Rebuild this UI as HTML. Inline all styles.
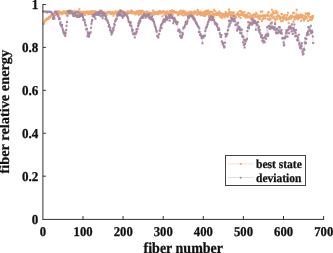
<!DOCTYPE html>
<html><head><meta charset="utf-8"><style>
html,body{margin:0;padding:0;background:#fff;width:333px;height:253px;overflow:hidden}
svg{display:block}
text{font-family:"Liberation Serif",serif;font-weight:bold;fill:#111;stroke:#111;stroke-width:0.25px;text-rendering:geometricPrecision}
</style></head><body>
<svg width="333" height="253" viewBox="0 0 333 253">
<rect width="333" height="253" fill="#fff"/>
<g fill="none" stroke-width="0.5">
<polyline points="43.30,23.93 43.70,23.66 44.10,22.94 44.50,21.59 44.91,21.11 45.31,20.60 45.71,19.19 46.11,19.35 46.51,19.06 46.91,19.65 47.31,18.45 47.71,19.05 48.11,18.13 48.51,17.18 48.91,18.48 49.32,16.93 49.72,17.30 50.12,17.55 50.52,16.22 50.92,15.41 51.32,16.37 51.72,15.39 52.12,14.06 52.52,13.73 52.92,13.99 53.33,14.94 53.73,13.52 54.13,14.21 54.53,15.09 54.93,14.71 55.33,14.88 55.73,14.60 56.13,11.30 56.53,14.52 56.94,13.46 57.34,12.90 57.74,11.76 58.14,11.14 58.54,11.66 58.94,12.87 59.34,11.51 59.74,11.88 60.14,12.09 60.54,13.56 60.95,12.46 61.35,12.63 61.75,14.32 62.15,12.42 62.55,13.48 62.95,11.57 63.35,13.17 63.75,12.92 64.15,12.99 64.55,12.25 64.95,11.60 65.36,12.44 65.76,12.24 66.16,13.97 66.56,13.82 66.96,11.39 67.36,13.50 67.76,12.22 68.16,13.30 68.56,12.22 68.97,11.08 69.37,13.94 69.77,13.29 70.17,11.36 70.57,10.59 70.97,12.15 71.37,11.40 71.77,12.34 72.17,13.47 72.57,14.45 72.98,12.35 73.38,14.34 73.78,14.09 74.18,12.25 74.58,10.83 74.98,13.73 75.38,13.45 75.78,15.46 76.18,14.39 76.58,13.65 76.99,14.69 77.39,11.54 77.79,12.97 78.19,12.43 78.59,14.75 78.99,13.39 79.39,9.22 79.79,14.32 80.19,11.70 80.59,13.63 81.00,12.19 81.40,13.02 81.80,13.47 82.20,12.96 82.60,11.64 83.00,14.35 83.40,13.19 83.80,12.72 84.20,13.55 84.60,12.12 85.00,14.90 85.41,12.99 85.81,13.15 86.21,13.13 86.61,11.68 87.01,11.38 87.41,12.98 87.81,13.13 88.21,14.28 88.61,13.25 89.02,11.47 89.42,13.33 89.82,13.67 90.22,13.88 90.62,13.10 91.02,11.31 91.42,14.05 91.82,11.87 92.22,13.37 92.62,10.90 93.03,13.59 93.43,11.81 93.83,13.95 94.23,14.74 94.63,14.05 95.03,11.36 95.43,11.62 95.83,11.70 96.23,13.46 96.63,13.10 97.04,12.88 97.44,13.05 97.84,13.36 98.24,13.44 98.64,14.63 99.04,12.62 99.44,12.92 99.84,10.55 100.24,11.16 100.64,11.88 101.05,11.31 101.45,12.93 101.85,13.87 102.25,12.17 102.65,12.11 103.05,12.08 103.45,12.82 103.85,12.04 104.25,13.15 104.65,13.00 105.06,13.05 105.46,13.53 105.86,12.69 106.26,12.82 106.66,14.67 107.06,12.59 107.46,13.56 107.86,12.70 108.26,12.11 108.66,12.11 109.06,11.69 109.47,12.65 109.87,11.94 110.27,12.14 110.67,14.03 111.07,12.47 111.47,13.94 111.87,12.93 112.27,13.62 112.67,11.92 113.08,12.79 113.48,15.65 113.88,13.57 114.28,13.77 114.68,12.88 115.08,13.60 115.48,11.27 115.88,11.63 116.28,13.10 116.68,13.55 117.09,12.13 117.49,12.39 117.89,12.18 118.29,12.38 118.69,11.21 119.09,10.95 119.49,12.50 119.89,10.59 120.29,11.46 120.69,11.83 121.09,11.38 121.50,12.87 121.90,12.08 122.30,12.51 122.70,11.44 123.10,11.75 123.50,13.19 123.90,13.02 124.30,12.07 124.70,13.03 125.11,12.83 125.51,12.80 125.91,14.45 126.31,12.16 126.71,13.10 127.11,13.11 127.51,12.35 127.91,11.29 128.31,13.42 128.71,12.93 129.12,12.69 129.52,12.66 129.92,12.66 130.32,11.61 130.72,12.97 131.12,10.57 131.52,12.61 131.92,10.92 132.32,12.24 132.72,13.47 133.12,12.35 133.53,12.10 133.93,13.24 134.33,12.34 134.73,12.19 135.13,12.20 135.53,14.40 135.93,13.42 136.33,13.22 136.73,11.30 137.14,13.38 137.54,11.18 137.94,13.22 138.34,11.39 138.74,14.92 139.14,10.74 139.54,14.08 139.94,13.60 140.34,10.64 140.74,12.41 141.15,14.35 141.55,14.00 141.95,10.79 142.35,12.10 142.75,11.35 143.15,11.52 143.55,11.97 143.95,14.83 144.35,12.86 144.75,12.45 145.16,12.33 145.56,13.48 145.96,13.52 146.36,11.67 146.76,14.41 147.16,11.48 147.56,12.41 147.96,13.25 148.36,14.71 148.76,12.34 149.17,13.07 149.57,14.24 149.97,13.47 150.37,14.05 150.77,13.96 151.17,13.06 151.57,13.49 151.97,13.83 152.37,12.73 152.77,14.64 153.18,10.44 153.58,11.69 153.98,14.48 154.38,13.29 154.78,12.02 155.18,13.24 155.58,14.08 155.98,12.12 156.38,13.72 156.78,12.65 157.19,12.66 157.59,12.72 157.99,14.15 158.39,11.45 158.79,12.37 159.19,13.62 159.59,11.33 159.99,10.89 160.39,13.52 160.79,12.83 161.20,12.65 161.60,13.01 162.00,11.63 162.40,16.46 162.80,11.62 163.20,12.30 163.60,11.07 164.00,12.33 164.40,14.77 164.80,12.88 165.21,13.61 165.61,12.25 166.01,15.17 166.41,13.08 166.81,11.28 167.21,13.86 167.61,12.40 168.01,13.66 168.41,13.06 168.81,13.22 169.22,13.06 169.62,11.72 170.02,10.94 170.42,14.17 170.82,12.72 171.22,13.27 171.62,12.29 172.02,10.25 172.42,11.23 172.82,14.76 173.23,11.87 173.63,12.41 174.03,10.97 174.43,12.22 174.83,12.43 175.23,12.63 175.63,12.83 176.03,12.08 176.43,12.16 176.83,12.92 177.24,13.38 177.64,12.75 178.04,15.31 178.44,13.23 178.84,13.17 179.24,12.05 179.64,14.36 180.04,11.55 180.44,10.73 180.84,11.61 181.25,13.82 181.65,11.38 182.05,14.77 182.45,12.94 182.85,10.86 183.25,12.66 183.65,15.48 184.05,11.77 184.45,11.14 184.85,13.71 185.26,14.84 185.66,14.43 186.06,12.53 186.46,13.26 186.86,13.46 187.26,14.68 187.66,16.08 188.06,12.85 188.46,14.88 188.86,12.52 189.27,13.87 189.67,11.67 190.07,11.91 190.47,13.63 190.87,11.72 191.27,14.32 191.67,12.23 192.07,13.15 192.47,12.92 192.87,12.55 193.28,13.24 193.68,14.64 194.08,17.65 194.48,11.29 194.88,13.50 195.28,12.80 195.68,11.70 196.08,13.49 196.48,11.75 196.88,12.95 197.29,14.94 197.69,10.03 198.09,13.45 198.49,13.76 198.89,11.63 199.29,13.88 199.69,13.62 200.09,12.62 200.49,15.30 200.89,11.73 201.30,15.01 201.70,13.95 202.10,12.97 202.50,14.61 202.90,14.13 203.30,15.71 203.70,11.89 204.10,13.69 204.50,13.06 204.90,16.00 205.31,11.75 205.71,15.17 206.11,10.76 206.51,14.07 206.91,13.32 207.31,14.14 207.71,12.44 208.11,10.47 208.51,11.12 208.91,15.67 209.32,13.93 209.72,12.22 210.12,15.05 210.52,12.42 210.92,12.44 211.32,11.69 211.72,15.53 212.12,16.79 212.52,12.12 212.92,14.14 213.33,15.25 213.73,17.08 214.13,9.87 214.53,13.94 214.93,14.75 215.33,11.35 215.73,14.40 216.13,14.07 216.53,14.94 216.93,12.81 217.34,14.46 217.74,12.78 218.14,14.80 218.54,14.07 218.94,13.18 219.34,11.43 219.74,16.63 220.14,15.82 220.54,15.70 220.94,13.32 221.35,14.13 221.75,17.90 222.15,16.56 222.55,14.04 222.95,15.88 223.35,15.94 223.75,15.18 224.15,13.69 224.55,17.46 224.95,16.11 225.36,14.54 225.76,11.88 226.16,13.58 226.56,14.64 226.96,16.26 227.36,13.99 227.76,16.74 228.16,14.96 228.56,13.31 228.96,9.47 229.37,12.51 229.77,11.91 230.17,14.46 230.57,15.40 230.97,17.44 231.37,14.76 231.77,12.55 232.17,19.38 232.57,15.42 232.97,14.31 233.38,14.32 233.78,12.18 234.18,16.12 234.58,15.61 234.98,18.06 235.38,17.10 235.78,16.65 236.18,17.46 236.58,14.35 236.98,14.03 237.39,14.84 237.79,12.40 238.19,14.67 238.59,14.30 238.99,16.38 239.39,14.97 239.79,11.02 240.19,15.09 240.59,18.03 240.99,11.16 241.40,13.44 241.80,15.11 242.20,12.24 242.60,13.91 243.00,15.23 243.40,12.26 243.80,15.77 244.20,16.03 244.60,12.37 245.00,15.22 245.41,17.56 245.81,14.80 246.21,16.17 246.61,16.65 247.01,14.70 247.41,17.44 247.81,16.11 248.21,13.01 248.61,16.46 249.01,17.25 249.42,17.14 249.82,13.83 250.22,16.38 250.62,18.51 251.02,15.89 251.42,18.12 251.82,18.42 252.22,15.31 252.62,16.97 253.02,14.74 253.43,17.97 253.83,15.24 254.23,14.16 254.63,15.43 255.03,15.33 255.43,16.43 255.83,16.65 256.23,12.75 256.63,14.00 257.03,16.44 257.44,16.75 257.84,15.81 258.24,21.95 258.64,18.33 259.04,15.47 259.44,17.42 259.84,18.90 260.24,16.59 260.64,11.54 261.04,15.98 261.45,15.88 261.85,20.89 262.25,11.38 262.65,19.52 263.05,15.45 263.45,18.08 263.85,15.16 264.25,16.30 264.65,18.61 265.05,16.11 265.46,18.45 265.86,15.75 266.26,14.97 266.66,15.45 267.06,14.78 267.46,15.71 267.86,19.29 268.26,13.22 268.66,12.06 269.06,16.02 269.47,20.12 269.87,18.61 270.27,19.28 270.67,19.13 271.07,14.39 271.47,16.44 271.87,9.78 272.27,14.72 272.67,17.66 273.07,12.48 273.48,11.28 273.88,13.13 274.28,16.79 274.68,19.08 275.08,22.51 275.48,19.75 275.88,12.69 276.28,10.78 276.68,16.73 277.08,18.93 277.49,12.52 277.89,15.17 278.29,15.36 278.69,16.54 279.09,16.05 279.49,17.74 279.89,19.05 280.29,16.70 280.69,18.34 281.09,21.33 281.50,14.10 281.90,14.05 282.30,17.79 282.70,21.03 283.10,16.99 283.50,19.22 283.90,15.87 284.30,18.82 284.70,15.12 285.10,18.25 285.51,17.59 285.91,17.60 286.31,19.97 286.71,19.24 287.11,15.25 287.51,18.82 287.91,12.63 288.31,19.09 288.71,23.33 289.11,18.01 289.52,17.97 289.92,16.91 290.32,18.77 290.72,15.70 291.12,18.40 291.52,16.15 291.92,15.80 292.32,17.12 292.72,16.69 293.12,12.68 293.53,21.84 293.93,17.20 294.33,12.80 294.73,19.46 295.13,16.81 295.53,17.38 295.93,18.59 296.33,14.75 296.73,9.84 297.13,16.67 297.54,17.49 297.94,19.32 298.34,15.11 298.74,16.29 299.14,17.89 299.54,16.18 299.94,16.34 300.34,17.56 300.74,14.56 301.14,20.76 301.55,14.75 301.95,17.05 302.35,16.18 302.75,15.27 303.15,18.26 303.55,19.41 303.95,20.48 304.35,18.39 304.75,15.92 305.15,19.07 305.56,13.54 305.96,17.12 306.36,18.26 306.76,18.37 307.16,14.25 307.56,13.42 307.96,21.00 308.36,15.79 308.76,13.06 309.16,14.04 309.56,17.05 309.97,19.85 310.37,17.01 310.77,19.90 311.17,17.56 311.57,18.15 311.97,19.39 312.37,16.12 312.77,17.74 313.17,16.09" stroke="#f0a86e" opacity="0.5"/>
<polyline points="43.30,11.36 43.70,11.64 44.10,11.82 44.50,11.51 44.91,11.59 45.31,11.43 45.71,11.87 46.11,11.39 46.51,11.58 46.91,12.40 47.31,12.34 47.71,11.48 48.11,11.64 48.51,11.55 48.91,11.57 49.32,11.67 49.72,12.10 50.12,11.69 50.52,11.65 50.92,11.93 51.32,12.02 51.72,13.80 52.12,13.54 52.52,14.35 52.92,17.74 53.33,18.99 53.73,16.21 54.13,16.31 54.53,18.52 54.93,11.71 55.33,12.55 55.73,12.59 56.13,12.75 56.53,12.34 56.94,14.29 57.34,13.49 57.74,14.33 58.14,16.38 58.54,15.60 58.94,19.23 59.34,17.80 59.74,19.07 60.14,23.77 60.54,22.18 60.95,25.11 61.35,26.21 61.75,26.42 62.15,24.72 62.55,28.55 62.95,30.22 63.35,32.37 63.75,31.65 64.15,33.74 64.55,34.57 64.95,32.49 65.36,35.96 65.76,33.34 66.16,30.00 66.56,25.82 66.96,21.93 67.36,15.64 67.76,11.49 68.16,12.24 68.56,10.81 68.97,11.64 69.37,12.77 69.77,11.07 70.17,11.81 70.57,11.16 70.97,11.73 71.37,13.05 71.77,11.54 72.17,11.87 72.57,13.20 72.98,14.36 73.38,15.99 73.78,16.15 74.18,15.84 74.58,13.81 74.98,12.80 75.38,14.64 75.78,15.32 76.18,15.69 76.58,11.68 76.99,16.94 77.39,15.38 77.79,11.86 78.19,16.51 78.59,12.62 78.99,16.15 79.39,17.12 79.79,15.58 80.19,14.13 80.59,15.60 81.00,15.98 81.40,15.36 81.80,13.90 82.20,13.93 82.60,16.04 83.00,17.29 83.40,19.96 83.80,19.32 84.20,20.22 84.60,20.45 85.00,22.67 85.41,25.08 85.81,25.34 86.21,29.48 86.61,28.64 87.01,29.15 87.41,36.15 87.81,32.25 88.21,34.18 88.61,36.32 89.02,36.76 89.42,34.57 89.82,32.73 90.22,32.74 90.62,32.33 91.02,27.72 91.42,23.77 91.82,21.55 92.22,20.11 92.62,15.96 93.03,15.20 93.43,14.78 93.83,15.30 94.23,17.07 94.63,14.82 95.03,13.39 95.43,18.83 95.83,14.24 96.23,14.65 96.63,12.41 97.04,12.27 97.44,12.63 97.84,15.03 98.24,14.36 98.64,14.93 99.04,11.86 99.44,12.24 99.84,13.73 100.24,12.66 100.64,16.36 101.05,13.42 101.45,10.68 101.85,13.17 102.25,15.82 102.65,18.17 103.05,12.55 103.45,13.86 103.85,15.69 104.25,14.14 104.65,13.62 105.06,15.21 105.46,18.88 105.86,16.14 106.26,18.12 106.66,20.29 107.06,20.30 107.46,20.72 107.86,21.75 108.26,22.98 108.66,26.49 109.06,24.66 109.47,26.70 109.87,30.25 110.27,28.10 110.67,30.16 111.07,31.97 111.47,34.44 111.87,32.65 112.27,32.68 112.67,31.26 113.08,28.39 113.48,29.96 113.88,27.33 114.28,24.12 114.68,24.93 115.08,21.41 115.48,20.36 115.88,20.38 116.28,18.57 116.68,18.97 117.09,15.32 117.49,16.14 117.89,14.23 118.29,15.06 118.69,12.88 119.09,12.35 119.49,13.70 119.89,13.04 120.29,15.57 120.69,10.44 121.09,14.79 121.50,11.07 121.90,15.82 122.30,16.10 122.70,17.73 123.10,12.25 123.50,13.40 123.90,16.06 124.30,13.26 124.70,15.16 125.11,13.90 125.51,14.58 125.91,14.43 126.31,14.81 126.71,14.61 127.11,16.49 127.51,16.69 127.91,18.08 128.31,19.64 128.71,21.79 129.12,22.20 129.52,22.09 129.92,25.27 130.32,22.98 130.72,22.30 131.12,25.48 131.52,26.51 131.92,29.18 132.32,31.39 132.72,29.92 133.12,34.00 133.53,34.13 133.93,33.51 134.33,34.14 134.73,37.57 135.13,34.15 135.53,32.77 135.93,33.76 136.33,29.85 136.73,32.01 137.14,28.96 137.54,29.29 137.94,26.23 138.34,23.20 138.74,24.81 139.14,21.24 139.54,22.81 139.94,19.50 140.34,21.37 140.74,18.22 141.15,18.36 141.55,17.34 141.95,16.17 142.35,18.05 142.75,16.84 143.15,17.47 143.55,15.42 143.95,13.93 144.35,15.77 144.75,14.91 145.16,15.15 145.56,17.75 145.96,16.57 146.36,16.16 146.76,15.81 147.16,15.60 147.56,14.37 147.96,14.47 148.36,15.83 148.76,17.67 149.17,15.52 149.57,14.28 149.97,18.85 150.37,18.49 150.77,17.34 151.17,19.36 151.57,18.27 151.97,16.28 152.37,19.71 152.77,20.62 153.18,19.15 153.58,21.14 153.98,21.95 154.38,23.85 154.78,25.44 155.18,26.39 155.58,27.50 155.98,29.62 156.38,30.88 156.78,31.81 157.19,35.93 157.59,36.12 157.99,36.68 158.39,37.51 158.79,34.25 159.19,34.36 159.59,30.43 159.99,30.66 160.39,28.20 160.79,26.27 161.20,24.85 161.60,28.28 162.00,23.68 162.40,23.82 162.80,22.43 163.20,20.46 163.60,20.70 164.00,19.23 164.40,20.02 164.80,21.81 165.21,20.56 165.61,19.10 166.01,17.11 166.41,16.31 166.81,18.89 167.21,19.83 167.61,18.48 168.01,17.72 168.41,17.22 168.81,15.08 169.22,16.27 169.62,20.64 170.02,16.86 170.42,17.92 170.82,15.73 171.22,14.80 171.62,16.72 172.02,16.95 172.42,18.09 172.82,17.48 173.23,23.24 173.63,19.11 174.03,21.31 174.43,17.68 174.83,19.31 175.23,20.31 175.63,20.56 176.03,22.45 176.43,23.43 176.83,24.22 177.24,22.54 177.64,21.95 178.04,30.43 178.44,30.82 178.84,30.46 179.24,29.49 179.64,32.18 180.04,36.09 180.44,31.46 180.84,36.73 181.25,37.90 181.65,35.60 182.05,36.92 182.45,32.90 182.85,34.51 183.25,28.39 183.65,27.29 184.05,27.42 184.45,27.34 184.85,25.92 185.26,24.38 185.66,22.15 186.06,21.66 186.46,24.07 186.86,23.22 187.26,22.27 187.66,20.36 188.06,17.54 188.46,16.25 188.86,17.92 189.27,16.84 189.67,16.26 190.07,16.29 190.47,15.14 190.87,15.31 191.27,15.63 191.67,16.17 192.07,15.84 192.47,17.45 192.87,16.99 193.28,18.69 193.68,18.01 194.08,19.82 194.48,19.87 194.88,19.24 195.28,21.28 195.68,21.77 196.08,23.18 196.48,22.66 196.88,23.99 197.29,24.95 197.69,25.92 198.09,26.81 198.49,26.79 198.89,31.94 199.29,28.16 199.69,32.02 200.09,34.98 200.49,34.02 200.89,35.37 201.30,36.49 201.70,38.13 202.10,37.55 202.50,43.24 202.90,36.07 203.30,37.47 203.70,36.12 204.10,35.71 204.50,36.25 204.90,35.56 205.31,31.11 205.71,28.48 206.11,28.47 206.51,26.68 206.91,26.81 207.31,25.12 207.71,23.99 208.11,21.98 208.51,21.88 208.91,19.92 209.32,17.60 209.72,18.85 210.12,17.96 210.52,18.24 210.92,16.33 211.32,20.30 211.72,16.95 212.12,19.92 212.52,17.10 212.92,18.36 213.33,19.73 213.73,19.98 214.13,19.79 214.53,21.88 214.93,23.19 215.33,24.28 215.73,22.74 216.13,24.58 216.53,24.08 216.93,25.95 217.34,24.43 217.74,27.81 218.14,29.88 218.54,28.94 218.94,28.37 219.34,29.70 219.74,33.36 220.14,34.38 220.54,36.89 220.94,37.04 221.35,35.00 221.75,41.54 222.15,41.48 222.55,43.58 222.95,44.24 223.35,43.12 223.75,46.06 224.15,47.38 224.55,46.68 224.95,42.72 225.36,33.79 225.76,36.56 226.16,35.54 226.56,35.86 226.96,33.70 227.36,33.85 227.76,30.45 228.16,29.87 228.56,26.81 228.96,20.67 229.37,24.53 229.77,25.14 230.17,20.45 230.57,22.73 230.97,20.80 231.37,18.08 231.77,18.02 232.17,18.92 232.57,19.81 232.97,19.34 233.38,21.19 233.78,16.13 234.18,21.09 234.58,19.08 234.98,21.30 235.38,25.00 235.78,24.47 236.18,24.44 236.58,24.90 236.98,30.59 237.39,22.67 237.79,28.96 238.19,22.78 238.59,26.67 238.99,28.69 239.39,26.84 239.79,30.35 240.19,33.01 240.59,28.73 240.99,33.51 241.40,32.94 241.80,29.87 242.20,36.46 242.60,35.75 243.00,42.44 243.40,36.93 243.80,44.91 244.20,39.81 244.60,47.52 245.00,43.94 245.41,41.63 245.81,40.90 246.21,39.87 246.61,39.57 247.01,38.81 247.41,30.98 247.81,27.80 248.21,21.99 248.61,26.43 249.01,28.26 249.42,25.43 249.82,24.31 250.22,23.34 250.62,22.58 251.02,22.76 251.42,23.78 251.82,19.17 252.22,24.80 252.62,19.93 253.02,23.15 253.43,21.84 253.83,23.22 254.23,20.94 254.63,20.50 255.03,23.35 255.43,21.42 255.83,29.80 256.23,22.88 256.63,23.58 257.03,25.18 257.44,24.69 257.84,21.91 258.24,28.31 258.64,30.54 259.04,26.67 259.44,32.03 259.84,29.76 260.24,33.16 260.64,34.75 261.04,36.98 261.45,37.14 261.85,35.28 262.25,40.86 262.65,38.00 263.05,40.42 263.45,42.58 263.85,41.32 264.25,37.66 264.65,42.35 265.05,37.26 265.46,36.27 265.86,35.02 266.26,38.77 266.66,34.78 267.06,27.25 267.46,33.70 267.86,36.07 268.26,34.54 268.66,25.93 269.06,25.73 269.47,27.60 269.87,29.05 270.27,26.73 270.67,23.56 271.07,27.95 271.47,28.37 271.87,22.59 272.27,26.47 272.67,26.95 273.07,27.25 273.48,27.92 273.88,29.42 274.28,28.18 274.68,27.22 275.08,23.91 275.48,29.75 275.88,32.22 276.28,33.37 276.68,29.32 277.08,28.47 277.49,33.37 277.89,32.92 278.29,30.27 278.69,32.18 279.09,27.02 279.49,32.12 279.89,27.43 280.29,31.39 280.69,33.44 281.09,31.86 281.50,30.00 281.90,33.53 282.30,38.38 282.70,37.93 283.10,38.45 283.50,42.50 283.90,45.50 284.30,44.75 284.70,37.60 285.10,38.29 285.51,36.55 285.91,33.54 286.31,30.47 286.71,32.50 287.11,30.24 287.51,36.66 287.91,29.67 288.31,29.73 288.71,27.45 289.11,33.31 289.52,26.43 289.92,28.34 290.32,26.25 290.72,28.40 291.12,28.72 291.52,31.43 291.92,24.22 292.32,27.96 292.72,33.99 293.12,27.94 293.53,30.47 293.93,29.41 294.33,24.60 294.73,31.70 295.13,36.17 295.53,33.06 295.93,30.00 296.33,35.83 296.73,36.23 297.13,40.04 297.54,40.54 297.94,37.80 298.34,40.44 298.74,34.65 299.14,44.60 299.54,42.72 299.94,47.27 300.34,47.98 300.74,45.27 301.14,48.58 301.55,46.01 301.95,43.22 302.35,51.77 302.75,54.50 303.15,50.19 303.55,53.71 303.95,48.85 304.35,49.99 304.75,42.44 305.15,38.16 305.56,43.50 305.96,43.08 306.36,38.99 306.76,35.21 307.16,33.19 307.56,32.99 307.96,31.41 308.36,27.03 308.76,34.51 309.16,27.80 309.56,30.26 309.97,30.28 310.37,31.36 310.77,25.82 311.17,33.29 311.57,31.36 311.97,30.74 312.37,32.27 312.77,36.50 313.17,43.00" stroke="#a6869f" opacity="0.5"/>
</g>
<path d="M42.30 22.93h2.0v2.0h-2.0zM42.70 22.66h2.0v2.0h-2.0zM43.10 21.94h2.0v2.0h-2.0zM43.50 20.59h2.0v2.0h-2.0zM43.91 20.11h2.0v2.0h-2.0zM44.31 19.60h2.0v2.0h-2.0zM44.71 18.19h2.0v2.0h-2.0zM45.11 18.35h2.0v2.0h-2.0zM45.51 18.06h2.0v2.0h-2.0zM45.91 18.65h2.0v2.0h-2.0zM46.31 17.45h2.0v2.0h-2.0zM46.71 18.05h2.0v2.0h-2.0zM47.11 17.13h2.0v2.0h-2.0zM47.51 16.18h2.0v2.0h-2.0zM47.91 17.48h2.0v2.0h-2.0zM48.32 15.93h2.0v2.0h-2.0zM48.72 16.30h2.0v2.0h-2.0zM49.12 16.55h2.0v2.0h-2.0zM49.52 15.22h2.0v2.0h-2.0zM49.92 14.41h2.0v2.0h-2.0zM50.32 15.37h2.0v2.0h-2.0zM50.72 14.39h2.0v2.0h-2.0zM51.12 13.06h2.0v2.0h-2.0zM51.52 12.73h2.0v2.0h-2.0zM51.92 12.99h2.0v2.0h-2.0zM52.33 13.94h2.0v2.0h-2.0zM52.73 12.52h2.0v2.0h-2.0zM53.13 13.21h2.0v2.0h-2.0zM53.53 14.09h2.0v2.0h-2.0zM53.93 13.71h2.0v2.0h-2.0zM54.33 13.88h2.0v2.0h-2.0zM54.73 13.60h2.0v2.0h-2.0zM55.13 10.30h2.0v2.0h-2.0zM55.53 13.52h2.0v2.0h-2.0zM55.94 12.46h2.0v2.0h-2.0zM56.34 11.90h2.0v2.0h-2.0zM56.74 10.76h2.0v2.0h-2.0zM57.14 10.14h2.0v2.0h-2.0zM57.54 10.66h2.0v2.0h-2.0zM57.94 11.87h2.0v2.0h-2.0zM58.34 10.51h2.0v2.0h-2.0zM58.74 10.88h2.0v2.0h-2.0zM59.14 11.09h2.0v2.0h-2.0zM59.54 12.56h2.0v2.0h-2.0zM59.95 11.46h2.0v2.0h-2.0zM60.35 11.63h2.0v2.0h-2.0zM60.75 13.32h2.0v2.0h-2.0zM61.15 11.42h2.0v2.0h-2.0zM61.55 12.48h2.0v2.0h-2.0zM61.95 10.57h2.0v2.0h-2.0zM62.35 12.17h2.0v2.0h-2.0zM62.75 11.92h2.0v2.0h-2.0zM63.15 11.99h2.0v2.0h-2.0zM63.55 11.25h2.0v2.0h-2.0zM63.95 10.60h2.0v2.0h-2.0zM64.36 11.44h2.0v2.0h-2.0zM64.76 11.24h2.0v2.0h-2.0zM65.16 12.97h2.0v2.0h-2.0zM65.56 12.82h2.0v2.0h-2.0zM65.96 10.39h2.0v2.0h-2.0zM66.36 12.50h2.0v2.0h-2.0zM66.76 11.22h2.0v2.0h-2.0zM67.16 12.30h2.0v2.0h-2.0zM67.56 11.22h2.0v2.0h-2.0zM67.97 10.08h2.0v2.0h-2.0zM68.37 12.94h2.0v2.0h-2.0zM68.77 12.29h2.0v2.0h-2.0zM69.17 10.36h2.0v2.0h-2.0zM69.57 9.59h2.0v2.0h-2.0zM69.97 11.15h2.0v2.0h-2.0zM70.37 10.40h2.0v2.0h-2.0zM70.77 11.34h2.0v2.0h-2.0zM71.17 12.47h2.0v2.0h-2.0zM71.57 13.45h2.0v2.0h-2.0zM71.98 11.35h2.0v2.0h-2.0zM72.38 13.34h2.0v2.0h-2.0zM72.78 13.09h2.0v2.0h-2.0zM73.18 11.25h2.0v2.0h-2.0zM73.58 9.83h2.0v2.0h-2.0zM73.98 12.73h2.0v2.0h-2.0zM74.38 12.45h2.0v2.0h-2.0zM74.78 14.46h2.0v2.0h-2.0zM75.18 13.39h2.0v2.0h-2.0zM75.58 12.65h2.0v2.0h-2.0zM75.99 13.69h2.0v2.0h-2.0zM76.39 10.54h2.0v2.0h-2.0zM76.79 11.97h2.0v2.0h-2.0zM77.19 11.43h2.0v2.0h-2.0zM77.59 13.75h2.0v2.0h-2.0zM77.99 12.39h2.0v2.0h-2.0zM78.39 8.22h2.0v2.0h-2.0zM78.79 13.32h2.0v2.0h-2.0zM79.19 10.70h2.0v2.0h-2.0zM79.59 12.63h2.0v2.0h-2.0zM80.00 11.19h2.0v2.0h-2.0zM80.40 12.02h2.0v2.0h-2.0zM80.80 12.47h2.0v2.0h-2.0zM81.20 11.96h2.0v2.0h-2.0zM81.60 10.64h2.0v2.0h-2.0zM82.00 13.35h2.0v2.0h-2.0zM82.40 12.19h2.0v2.0h-2.0zM82.80 11.72h2.0v2.0h-2.0zM83.20 12.55h2.0v2.0h-2.0zM83.60 11.12h2.0v2.0h-2.0zM84.00 13.90h2.0v2.0h-2.0zM84.41 11.99h2.0v2.0h-2.0zM84.81 12.15h2.0v2.0h-2.0zM85.21 12.13h2.0v2.0h-2.0zM85.61 10.68h2.0v2.0h-2.0zM86.01 10.38h2.0v2.0h-2.0zM86.41 11.98h2.0v2.0h-2.0zM86.81 12.13h2.0v2.0h-2.0zM87.21 13.28h2.0v2.0h-2.0zM87.61 12.25h2.0v2.0h-2.0zM88.02 10.47h2.0v2.0h-2.0zM88.42 12.33h2.0v2.0h-2.0zM88.82 12.67h2.0v2.0h-2.0zM89.22 12.88h2.0v2.0h-2.0zM89.62 12.10h2.0v2.0h-2.0zM90.02 10.31h2.0v2.0h-2.0zM90.42 13.05h2.0v2.0h-2.0zM90.82 10.87h2.0v2.0h-2.0zM91.22 12.37h2.0v2.0h-2.0zM91.62 9.90h2.0v2.0h-2.0zM92.03 12.59h2.0v2.0h-2.0zM92.43 10.81h2.0v2.0h-2.0zM92.83 12.95h2.0v2.0h-2.0zM93.23 13.74h2.0v2.0h-2.0zM93.63 13.05h2.0v2.0h-2.0zM94.03 10.36h2.0v2.0h-2.0zM94.43 10.62h2.0v2.0h-2.0zM94.83 10.70h2.0v2.0h-2.0zM95.23 12.46h2.0v2.0h-2.0zM95.63 12.10h2.0v2.0h-2.0zM96.04 11.88h2.0v2.0h-2.0zM96.44 12.05h2.0v2.0h-2.0zM96.84 12.36h2.0v2.0h-2.0zM97.24 12.44h2.0v2.0h-2.0zM97.64 13.63h2.0v2.0h-2.0zM98.04 11.62h2.0v2.0h-2.0zM98.44 11.92h2.0v2.0h-2.0zM98.84 9.55h2.0v2.0h-2.0zM99.24 10.16h2.0v2.0h-2.0zM99.64 10.88h2.0v2.0h-2.0zM100.05 10.31h2.0v2.0h-2.0zM100.45 11.93h2.0v2.0h-2.0zM100.85 12.87h2.0v2.0h-2.0zM101.25 11.17h2.0v2.0h-2.0zM101.65 11.11h2.0v2.0h-2.0zM102.05 11.08h2.0v2.0h-2.0zM102.45 11.82h2.0v2.0h-2.0zM102.85 11.04h2.0v2.0h-2.0zM103.25 12.15h2.0v2.0h-2.0zM103.65 12.00h2.0v2.0h-2.0zM104.06 12.05h2.0v2.0h-2.0zM104.46 12.53h2.0v2.0h-2.0zM104.86 11.69h2.0v2.0h-2.0zM105.26 11.82h2.0v2.0h-2.0zM105.66 13.67h2.0v2.0h-2.0zM106.06 11.59h2.0v2.0h-2.0zM106.46 12.56h2.0v2.0h-2.0zM106.86 11.70h2.0v2.0h-2.0zM107.26 11.11h2.0v2.0h-2.0zM107.66 11.11h2.0v2.0h-2.0zM108.06 10.69h2.0v2.0h-2.0zM108.47 11.65h2.0v2.0h-2.0zM108.87 10.94h2.0v2.0h-2.0zM109.27 11.14h2.0v2.0h-2.0zM109.67 13.03h2.0v2.0h-2.0zM110.07 11.47h2.0v2.0h-2.0zM110.47 12.94h2.0v2.0h-2.0zM110.87 11.93h2.0v2.0h-2.0zM111.27 12.62h2.0v2.0h-2.0zM111.67 10.92h2.0v2.0h-2.0zM112.08 11.79h2.0v2.0h-2.0zM112.48 14.65h2.0v2.0h-2.0zM112.88 12.57h2.0v2.0h-2.0zM113.28 12.77h2.0v2.0h-2.0zM113.68 11.88h2.0v2.0h-2.0zM114.08 12.60h2.0v2.0h-2.0zM114.48 10.27h2.0v2.0h-2.0zM114.88 10.63h2.0v2.0h-2.0zM115.28 12.10h2.0v2.0h-2.0zM115.68 12.55h2.0v2.0h-2.0zM116.09 11.13h2.0v2.0h-2.0zM116.49 11.39h2.0v2.0h-2.0zM116.89 11.18h2.0v2.0h-2.0zM117.29 11.38h2.0v2.0h-2.0zM117.69 10.21h2.0v2.0h-2.0zM118.09 9.95h2.0v2.0h-2.0zM118.49 11.50h2.0v2.0h-2.0zM118.89 9.59h2.0v2.0h-2.0zM119.29 10.46h2.0v2.0h-2.0zM119.69 10.83h2.0v2.0h-2.0zM120.09 10.38h2.0v2.0h-2.0zM120.50 11.87h2.0v2.0h-2.0zM120.90 11.08h2.0v2.0h-2.0zM121.30 11.51h2.0v2.0h-2.0zM121.70 10.44h2.0v2.0h-2.0zM122.10 10.75h2.0v2.0h-2.0zM122.50 12.19h2.0v2.0h-2.0zM122.90 12.02h2.0v2.0h-2.0zM123.30 11.07h2.0v2.0h-2.0zM123.70 12.03h2.0v2.0h-2.0zM124.11 11.83h2.0v2.0h-2.0zM124.51 11.80h2.0v2.0h-2.0zM124.91 13.45h2.0v2.0h-2.0zM125.31 11.16h2.0v2.0h-2.0zM125.71 12.10h2.0v2.0h-2.0zM126.11 12.11h2.0v2.0h-2.0zM126.51 11.35h2.0v2.0h-2.0zM126.91 10.29h2.0v2.0h-2.0zM127.31 12.42h2.0v2.0h-2.0zM127.71 11.93h2.0v2.0h-2.0zM128.12 11.69h2.0v2.0h-2.0zM128.52 11.66h2.0v2.0h-2.0zM128.92 11.66h2.0v2.0h-2.0zM129.32 10.61h2.0v2.0h-2.0zM129.72 11.97h2.0v2.0h-2.0zM130.12 9.57h2.0v2.0h-2.0zM130.52 11.61h2.0v2.0h-2.0zM130.92 9.92h2.0v2.0h-2.0zM131.32 11.24h2.0v2.0h-2.0zM131.72 12.47h2.0v2.0h-2.0zM132.12 11.35h2.0v2.0h-2.0zM132.53 11.10h2.0v2.0h-2.0zM132.93 12.24h2.0v2.0h-2.0zM133.33 11.34h2.0v2.0h-2.0zM133.73 11.19h2.0v2.0h-2.0zM134.13 11.20h2.0v2.0h-2.0zM134.53 13.40h2.0v2.0h-2.0zM134.93 12.42h2.0v2.0h-2.0zM135.33 12.22h2.0v2.0h-2.0zM135.73 10.30h2.0v2.0h-2.0zM136.14 12.38h2.0v2.0h-2.0zM136.54 10.18h2.0v2.0h-2.0zM136.94 12.22h2.0v2.0h-2.0zM137.34 10.39h2.0v2.0h-2.0zM137.74 13.92h2.0v2.0h-2.0zM138.14 9.74h2.0v2.0h-2.0zM138.54 13.08h2.0v2.0h-2.0zM138.94 12.60h2.0v2.0h-2.0zM139.34 9.64h2.0v2.0h-2.0zM139.74 11.41h2.0v2.0h-2.0zM140.15 13.35h2.0v2.0h-2.0zM140.55 13.00h2.0v2.0h-2.0zM140.95 9.79h2.0v2.0h-2.0zM141.35 11.10h2.0v2.0h-2.0zM141.75 10.35h2.0v2.0h-2.0zM142.15 10.52h2.0v2.0h-2.0zM142.55 10.97h2.0v2.0h-2.0zM142.95 13.83h2.0v2.0h-2.0zM143.35 11.86h2.0v2.0h-2.0zM143.75 11.45h2.0v2.0h-2.0zM144.16 11.33h2.0v2.0h-2.0zM144.56 12.48h2.0v2.0h-2.0zM144.96 12.52h2.0v2.0h-2.0zM145.36 10.67h2.0v2.0h-2.0zM145.76 13.41h2.0v2.0h-2.0zM146.16 10.48h2.0v2.0h-2.0zM146.56 11.41h2.0v2.0h-2.0zM146.96 12.25h2.0v2.0h-2.0zM147.36 13.71h2.0v2.0h-2.0zM147.76 11.34h2.0v2.0h-2.0zM148.17 12.07h2.0v2.0h-2.0zM148.57 13.24h2.0v2.0h-2.0zM148.97 12.47h2.0v2.0h-2.0zM149.37 13.05h2.0v2.0h-2.0zM149.77 12.96h2.0v2.0h-2.0zM150.17 12.06h2.0v2.0h-2.0zM150.57 12.49h2.0v2.0h-2.0zM150.97 12.83h2.0v2.0h-2.0zM151.37 11.73h2.0v2.0h-2.0zM151.77 13.64h2.0v2.0h-2.0zM152.18 9.44h2.0v2.0h-2.0zM152.58 10.69h2.0v2.0h-2.0zM152.98 13.48h2.0v2.0h-2.0zM153.38 12.29h2.0v2.0h-2.0zM153.78 11.02h2.0v2.0h-2.0zM154.18 12.24h2.0v2.0h-2.0zM154.58 13.08h2.0v2.0h-2.0zM154.98 11.12h2.0v2.0h-2.0zM155.38 12.72h2.0v2.0h-2.0zM155.78 11.65h2.0v2.0h-2.0zM156.19 11.66h2.0v2.0h-2.0zM156.59 11.72h2.0v2.0h-2.0zM156.99 13.15h2.0v2.0h-2.0zM157.39 10.45h2.0v2.0h-2.0zM157.79 11.37h2.0v2.0h-2.0zM158.19 12.62h2.0v2.0h-2.0zM158.59 10.33h2.0v2.0h-2.0zM158.99 9.89h2.0v2.0h-2.0zM159.39 12.52h2.0v2.0h-2.0zM159.79 11.83h2.0v2.0h-2.0zM160.20 11.65h2.0v2.0h-2.0zM160.60 12.01h2.0v2.0h-2.0zM161.00 10.63h2.0v2.0h-2.0zM161.40 15.46h2.0v2.0h-2.0zM161.80 10.62h2.0v2.0h-2.0zM162.20 11.30h2.0v2.0h-2.0zM162.60 10.07h2.0v2.0h-2.0zM163.00 11.33h2.0v2.0h-2.0zM163.40 13.77h2.0v2.0h-2.0zM163.80 11.88h2.0v2.0h-2.0zM164.21 12.61h2.0v2.0h-2.0zM164.61 11.25h2.0v2.0h-2.0zM165.01 14.17h2.0v2.0h-2.0zM165.41 12.08h2.0v2.0h-2.0zM165.81 10.28h2.0v2.0h-2.0zM166.21 12.86h2.0v2.0h-2.0zM166.61 11.40h2.0v2.0h-2.0zM167.01 12.66h2.0v2.0h-2.0zM167.41 12.06h2.0v2.0h-2.0zM167.81 12.22h2.0v2.0h-2.0zM168.22 12.06h2.0v2.0h-2.0zM168.62 10.72h2.0v2.0h-2.0zM169.02 9.94h2.0v2.0h-2.0zM169.42 13.17h2.0v2.0h-2.0zM169.82 11.72h2.0v2.0h-2.0zM170.22 12.27h2.0v2.0h-2.0zM170.62 11.29h2.0v2.0h-2.0zM171.02 9.25h2.0v2.0h-2.0zM171.42 10.23h2.0v2.0h-2.0zM171.82 13.76h2.0v2.0h-2.0zM172.23 10.87h2.0v2.0h-2.0zM172.63 11.41h2.0v2.0h-2.0zM173.03 9.97h2.0v2.0h-2.0zM173.43 11.22h2.0v2.0h-2.0zM173.83 11.43h2.0v2.0h-2.0zM174.23 11.63h2.0v2.0h-2.0zM174.63 11.83h2.0v2.0h-2.0zM175.03 11.08h2.0v2.0h-2.0zM175.43 11.16h2.0v2.0h-2.0zM175.83 11.92h2.0v2.0h-2.0zM176.24 12.38h2.0v2.0h-2.0zM176.64 11.75h2.0v2.0h-2.0zM177.04 14.31h2.0v2.0h-2.0zM177.44 12.23h2.0v2.0h-2.0zM177.84 12.17h2.0v2.0h-2.0zM178.24 11.05h2.0v2.0h-2.0zM178.64 13.36h2.0v2.0h-2.0zM179.04 10.55h2.0v2.0h-2.0zM179.44 9.73h2.0v2.0h-2.0zM179.84 10.61h2.0v2.0h-2.0zM180.25 12.82h2.0v2.0h-2.0zM180.65 10.38h2.0v2.0h-2.0zM181.05 13.77h2.0v2.0h-2.0zM181.45 11.94h2.0v2.0h-2.0zM181.85 9.86h2.0v2.0h-2.0zM182.25 11.66h2.0v2.0h-2.0zM182.65 14.48h2.0v2.0h-2.0zM183.05 10.77h2.0v2.0h-2.0zM183.45 10.14h2.0v2.0h-2.0zM183.85 12.71h2.0v2.0h-2.0zM184.26 13.84h2.0v2.0h-2.0zM184.66 13.43h2.0v2.0h-2.0zM185.06 11.53h2.0v2.0h-2.0zM185.46 12.26h2.0v2.0h-2.0zM185.86 12.46h2.0v2.0h-2.0zM186.26 13.68h2.0v2.0h-2.0zM186.66 15.08h2.0v2.0h-2.0zM187.06 11.85h2.0v2.0h-2.0zM187.46 13.88h2.0v2.0h-2.0zM187.86 11.52h2.0v2.0h-2.0zM188.27 12.87h2.0v2.0h-2.0zM188.67 10.67h2.0v2.0h-2.0zM189.07 10.91h2.0v2.0h-2.0zM189.47 12.63h2.0v2.0h-2.0zM189.87 10.72h2.0v2.0h-2.0zM190.27 13.32h2.0v2.0h-2.0zM190.67 11.23h2.0v2.0h-2.0zM191.07 12.15h2.0v2.0h-2.0zM191.47 11.92h2.0v2.0h-2.0zM191.87 11.55h2.0v2.0h-2.0zM192.28 12.24h2.0v2.0h-2.0zM192.68 13.64h2.0v2.0h-2.0zM193.08 16.65h2.0v2.0h-2.0zM193.48 10.29h2.0v2.0h-2.0zM193.88 12.50h2.0v2.0h-2.0zM194.28 11.80h2.0v2.0h-2.0zM194.68 10.70h2.0v2.0h-2.0zM195.08 12.49h2.0v2.0h-2.0zM195.48 10.75h2.0v2.0h-2.0zM195.88 11.95h2.0v2.0h-2.0zM196.29 13.94h2.0v2.0h-2.0zM196.69 9.03h2.0v2.0h-2.0zM197.09 12.45h2.0v2.0h-2.0zM197.49 12.76h2.0v2.0h-2.0zM197.89 10.63h2.0v2.0h-2.0zM198.29 12.88h2.0v2.0h-2.0zM198.69 12.62h2.0v2.0h-2.0zM199.09 11.62h2.0v2.0h-2.0zM199.49 14.30h2.0v2.0h-2.0zM199.89 10.73h2.0v2.0h-2.0zM200.30 14.01h2.0v2.0h-2.0zM200.70 12.95h2.0v2.0h-2.0zM201.10 11.97h2.0v2.0h-2.0zM201.50 13.61h2.0v2.0h-2.0zM201.90 13.13h2.0v2.0h-2.0zM202.30 14.71h2.0v2.0h-2.0zM202.70 10.89h2.0v2.0h-2.0zM203.10 12.69h2.0v2.0h-2.0zM203.50 12.06h2.0v2.0h-2.0zM203.90 15.00h2.0v2.0h-2.0zM204.31 10.75h2.0v2.0h-2.0zM204.71 14.17h2.0v2.0h-2.0zM205.11 9.76h2.0v2.0h-2.0zM205.51 13.07h2.0v2.0h-2.0zM205.91 12.32h2.0v2.0h-2.0zM206.31 13.14h2.0v2.0h-2.0zM206.71 11.44h2.0v2.0h-2.0zM207.11 9.47h2.0v2.0h-2.0zM207.51 10.12h2.0v2.0h-2.0zM207.91 14.67h2.0v2.0h-2.0zM208.32 12.93h2.0v2.0h-2.0zM208.72 11.22h2.0v2.0h-2.0zM209.12 14.05h2.0v2.0h-2.0zM209.52 11.42h2.0v2.0h-2.0zM209.92 11.44h2.0v2.0h-2.0zM210.32 10.69h2.0v2.0h-2.0zM210.72 14.53h2.0v2.0h-2.0zM211.12 15.79h2.0v2.0h-2.0zM211.52 11.12h2.0v2.0h-2.0zM211.92 13.14h2.0v2.0h-2.0zM212.33 14.25h2.0v2.0h-2.0zM212.73 16.08h2.0v2.0h-2.0zM213.13 8.87h2.0v2.0h-2.0zM213.53 12.94h2.0v2.0h-2.0zM213.93 13.75h2.0v2.0h-2.0zM214.33 10.35h2.0v2.0h-2.0zM214.73 13.40h2.0v2.0h-2.0zM215.13 13.07h2.0v2.0h-2.0zM215.53 13.94h2.0v2.0h-2.0zM215.93 11.81h2.0v2.0h-2.0zM216.34 13.46h2.0v2.0h-2.0zM216.74 11.78h2.0v2.0h-2.0zM217.14 13.80h2.0v2.0h-2.0zM217.54 13.07h2.0v2.0h-2.0zM217.94 12.18h2.0v2.0h-2.0zM218.34 10.43h2.0v2.0h-2.0zM218.74 15.63h2.0v2.0h-2.0zM219.14 14.82h2.0v2.0h-2.0zM219.54 14.70h2.0v2.0h-2.0zM219.94 12.32h2.0v2.0h-2.0zM220.35 13.13h2.0v2.0h-2.0zM220.75 16.90h2.0v2.0h-2.0zM221.15 15.56h2.0v2.0h-2.0zM221.55 13.04h2.0v2.0h-2.0zM221.95 14.88h2.0v2.0h-2.0zM222.35 14.94h2.0v2.0h-2.0zM222.75 14.18h2.0v2.0h-2.0zM223.15 12.69h2.0v2.0h-2.0zM223.55 16.46h2.0v2.0h-2.0zM223.95 15.11h2.0v2.0h-2.0zM224.36 13.54h2.0v2.0h-2.0zM224.76 10.88h2.0v2.0h-2.0zM225.16 12.58h2.0v2.0h-2.0zM225.56 13.64h2.0v2.0h-2.0zM225.96 15.26h2.0v2.0h-2.0zM226.36 12.99h2.0v2.0h-2.0zM226.76 15.74h2.0v2.0h-2.0zM227.16 13.96h2.0v2.0h-2.0zM227.56 12.31h2.0v2.0h-2.0zM227.96 8.47h2.0v2.0h-2.0zM228.37 11.51h2.0v2.0h-2.0zM228.77 10.91h2.0v2.0h-2.0zM229.17 13.46h2.0v2.0h-2.0zM229.57 14.40h2.0v2.0h-2.0zM229.97 16.44h2.0v2.0h-2.0zM230.37 13.76h2.0v2.0h-2.0zM230.77 11.55h2.0v2.0h-2.0zM231.17 18.38h2.0v2.0h-2.0zM231.57 14.42h2.0v2.0h-2.0zM231.97 13.31h2.0v2.0h-2.0zM232.38 13.32h2.0v2.0h-2.0zM232.78 11.18h2.0v2.0h-2.0zM233.18 15.12h2.0v2.0h-2.0zM233.58 14.61h2.0v2.0h-2.0zM233.98 17.06h2.0v2.0h-2.0zM234.38 16.10h2.0v2.0h-2.0zM234.78 15.65h2.0v2.0h-2.0zM235.18 16.46h2.0v2.0h-2.0zM235.58 13.35h2.0v2.0h-2.0zM235.98 13.03h2.0v2.0h-2.0zM236.39 13.84h2.0v2.0h-2.0zM236.79 11.40h2.0v2.0h-2.0zM237.19 13.67h2.0v2.0h-2.0zM237.59 13.30h2.0v2.0h-2.0zM237.99 15.38h2.0v2.0h-2.0zM238.39 13.97h2.0v2.0h-2.0zM238.79 10.02h2.0v2.0h-2.0zM239.19 14.09h2.0v2.0h-2.0zM239.59 17.03h2.0v2.0h-2.0zM239.99 10.16h2.0v2.0h-2.0zM240.40 12.44h2.0v2.0h-2.0zM240.80 14.11h2.0v2.0h-2.0zM241.20 11.24h2.0v2.0h-2.0zM241.60 12.91h2.0v2.0h-2.0zM242.00 14.23h2.0v2.0h-2.0zM242.40 11.26h2.0v2.0h-2.0zM242.80 14.77h2.0v2.0h-2.0zM243.20 15.03h2.0v2.0h-2.0zM243.60 11.37h2.0v2.0h-2.0zM244.00 14.22h2.0v2.0h-2.0zM244.41 16.56h2.0v2.0h-2.0zM244.81 13.80h2.0v2.0h-2.0zM245.21 15.17h2.0v2.0h-2.0zM245.61 15.65h2.0v2.0h-2.0zM246.01 13.70h2.0v2.0h-2.0zM246.41 16.44h2.0v2.0h-2.0zM246.81 15.11h2.0v2.0h-2.0zM247.21 12.01h2.0v2.0h-2.0zM247.61 15.46h2.0v2.0h-2.0zM248.01 16.25h2.0v2.0h-2.0zM248.42 16.14h2.0v2.0h-2.0zM248.82 12.83h2.0v2.0h-2.0zM249.22 15.38h2.0v2.0h-2.0zM249.62 17.51h2.0v2.0h-2.0zM250.02 14.89h2.0v2.0h-2.0zM250.42 17.12h2.0v2.0h-2.0zM250.82 17.42h2.0v2.0h-2.0zM251.22 14.31h2.0v2.0h-2.0zM251.62 15.97h2.0v2.0h-2.0zM252.02 13.74h2.0v2.0h-2.0zM252.43 16.97h2.0v2.0h-2.0zM252.83 14.24h2.0v2.0h-2.0zM253.23 13.16h2.0v2.0h-2.0zM253.63 14.43h2.0v2.0h-2.0zM254.03 14.33h2.0v2.0h-2.0zM254.43 15.43h2.0v2.0h-2.0zM254.83 15.65h2.0v2.0h-2.0zM255.23 11.75h2.0v2.0h-2.0zM255.63 13.00h2.0v2.0h-2.0zM256.03 15.44h2.0v2.0h-2.0zM256.44 15.75h2.0v2.0h-2.0zM256.84 14.81h2.0v2.0h-2.0zM257.24 20.95h2.0v2.0h-2.0zM257.64 17.33h2.0v2.0h-2.0zM258.04 14.47h2.0v2.0h-2.0zM258.44 16.42h2.0v2.0h-2.0zM258.84 17.90h2.0v2.0h-2.0zM259.24 15.59h2.0v2.0h-2.0zM259.64 10.54h2.0v2.0h-2.0zM260.04 14.98h2.0v2.0h-2.0zM260.45 14.88h2.0v2.0h-2.0zM260.85 19.89h2.0v2.0h-2.0zM261.25 10.38h2.0v2.0h-2.0zM261.65 18.52h2.0v2.0h-2.0zM262.05 14.45h2.0v2.0h-2.0zM262.45 17.08h2.0v2.0h-2.0zM262.85 14.16h2.0v2.0h-2.0zM263.25 15.30h2.0v2.0h-2.0zM263.65 17.61h2.0v2.0h-2.0zM264.05 15.11h2.0v2.0h-2.0zM264.46 17.45h2.0v2.0h-2.0zM264.86 14.75h2.0v2.0h-2.0zM265.26 13.97h2.0v2.0h-2.0zM265.66 14.45h2.0v2.0h-2.0zM266.06 13.78h2.0v2.0h-2.0zM266.46 14.71h2.0v2.0h-2.0zM266.86 18.29h2.0v2.0h-2.0zM267.26 12.22h2.0v2.0h-2.0zM267.66 11.06h2.0v2.0h-2.0zM268.06 15.02h2.0v2.0h-2.0zM268.47 19.12h2.0v2.0h-2.0zM268.87 17.61h2.0v2.0h-2.0zM269.27 18.28h2.0v2.0h-2.0zM269.67 18.13h2.0v2.0h-2.0zM270.07 13.39h2.0v2.0h-2.0zM270.47 15.44h2.0v2.0h-2.0zM270.87 8.78h2.0v2.0h-2.0zM271.27 13.72h2.0v2.0h-2.0zM271.67 16.66h2.0v2.0h-2.0zM272.07 11.48h2.0v2.0h-2.0zM272.48 10.28h2.0v2.0h-2.0zM272.88 12.13h2.0v2.0h-2.0zM273.28 15.79h2.0v2.0h-2.0zM273.68 18.08h2.0v2.0h-2.0zM274.08 21.51h2.0v2.0h-2.0zM274.48 18.75h2.0v2.0h-2.0zM274.88 11.69h2.0v2.0h-2.0zM275.28 9.78h2.0v2.0h-2.0zM275.68 15.73h2.0v2.0h-2.0zM276.08 17.93h2.0v2.0h-2.0zM276.49 11.52h2.0v2.0h-2.0zM276.89 14.17h2.0v2.0h-2.0zM277.29 14.36h2.0v2.0h-2.0zM277.69 15.54h2.0v2.0h-2.0zM278.09 15.05h2.0v2.0h-2.0zM278.49 16.74h2.0v2.0h-2.0zM278.89 18.05h2.0v2.0h-2.0zM279.29 15.70h2.0v2.0h-2.0zM279.69 17.34h2.0v2.0h-2.0zM280.09 20.33h2.0v2.0h-2.0zM280.50 13.10h2.0v2.0h-2.0zM280.90 13.05h2.0v2.0h-2.0zM281.30 16.79h2.0v2.0h-2.0zM281.70 20.03h2.0v2.0h-2.0zM282.10 15.99h2.0v2.0h-2.0zM282.50 18.22h2.0v2.0h-2.0zM282.90 14.87h2.0v2.0h-2.0zM283.30 17.82h2.0v2.0h-2.0zM283.70 14.12h2.0v2.0h-2.0zM284.10 17.25h2.0v2.0h-2.0zM284.51 16.59h2.0v2.0h-2.0zM284.91 16.60h2.0v2.0h-2.0zM285.31 18.97h2.0v2.0h-2.0zM285.71 18.24h2.0v2.0h-2.0zM286.11 14.25h2.0v2.0h-2.0zM286.51 17.82h2.0v2.0h-2.0zM286.91 11.63h2.0v2.0h-2.0zM287.31 18.09h2.0v2.0h-2.0zM287.71 22.33h2.0v2.0h-2.0zM288.11 17.01h2.0v2.0h-2.0zM288.52 16.97h2.0v2.0h-2.0zM288.92 15.91h2.0v2.0h-2.0zM289.32 17.77h2.0v2.0h-2.0zM289.72 14.70h2.0v2.0h-2.0zM290.12 17.40h2.0v2.0h-2.0zM290.52 15.15h2.0v2.0h-2.0zM290.92 14.80h2.0v2.0h-2.0zM291.32 16.12h2.0v2.0h-2.0zM291.72 15.69h2.0v2.0h-2.0zM292.12 11.68h2.0v2.0h-2.0zM292.53 20.84h2.0v2.0h-2.0zM292.93 16.20h2.0v2.0h-2.0zM293.33 11.80h2.0v2.0h-2.0zM293.73 18.46h2.0v2.0h-2.0zM294.13 15.81h2.0v2.0h-2.0zM294.53 16.38h2.0v2.0h-2.0zM294.93 17.59h2.0v2.0h-2.0zM295.33 13.75h2.0v2.0h-2.0zM295.73 8.84h2.0v2.0h-2.0zM296.13 15.67h2.0v2.0h-2.0zM296.54 16.49h2.0v2.0h-2.0zM296.94 18.32h2.0v2.0h-2.0zM297.34 14.11h2.0v2.0h-2.0zM297.74 15.29h2.0v2.0h-2.0zM298.14 16.89h2.0v2.0h-2.0zM298.54 15.18h2.0v2.0h-2.0zM298.94 15.34h2.0v2.0h-2.0zM299.34 16.56h2.0v2.0h-2.0zM299.74 13.56h2.0v2.0h-2.0zM300.14 19.76h2.0v2.0h-2.0zM300.55 13.75h2.0v2.0h-2.0zM300.95 16.05h2.0v2.0h-2.0zM301.35 15.18h2.0v2.0h-2.0zM301.75 14.27h2.0v2.0h-2.0zM302.15 17.26h2.0v2.0h-2.0zM302.55 18.41h2.0v2.0h-2.0zM302.95 19.48h2.0v2.0h-2.0zM303.35 17.39h2.0v2.0h-2.0zM303.75 14.92h2.0v2.0h-2.0zM304.15 18.07h2.0v2.0h-2.0zM304.56 12.54h2.0v2.0h-2.0zM304.96 16.12h2.0v2.0h-2.0zM305.36 17.26h2.0v2.0h-2.0zM305.76 17.37h2.0v2.0h-2.0zM306.16 13.25h2.0v2.0h-2.0zM306.56 12.42h2.0v2.0h-2.0zM306.96 20.00h2.0v2.0h-2.0zM307.36 14.79h2.0v2.0h-2.0zM307.76 12.06h2.0v2.0h-2.0zM308.16 13.04h2.0v2.0h-2.0zM308.56 16.05h2.0v2.0h-2.0zM308.97 18.85h2.0v2.0h-2.0zM309.37 16.01h2.0v2.0h-2.0zM309.77 18.90h2.0v2.0h-2.0zM310.17 16.56h2.0v2.0h-2.0zM310.57 17.15h2.0v2.0h-2.0zM310.97 18.39h2.0v2.0h-2.0zM311.37 15.12h2.0v2.0h-2.0zM311.77 16.74h2.0v2.0h-2.0zM312.17 15.09h2.0v2.0h-2.0z" fill="#f0a86e"/>
<path d="M42.30 10.36h2.0v2.0h-2.0zM42.70 10.64h2.0v2.0h-2.0zM43.10 10.82h2.0v2.0h-2.0zM43.50 10.51h2.0v2.0h-2.0zM43.91 10.59h2.0v2.0h-2.0zM44.31 10.43h2.0v2.0h-2.0zM44.71 10.87h2.0v2.0h-2.0zM45.11 10.39h2.0v2.0h-2.0zM45.51 10.58h2.0v2.0h-2.0zM45.91 11.40h2.0v2.0h-2.0zM46.31 11.34h2.0v2.0h-2.0zM46.71 10.48h2.0v2.0h-2.0zM47.11 10.64h2.0v2.0h-2.0zM47.51 10.55h2.0v2.0h-2.0zM47.91 10.57h2.0v2.0h-2.0zM48.32 10.67h2.0v2.0h-2.0zM48.72 11.10h2.0v2.0h-2.0zM49.12 10.69h2.0v2.0h-2.0zM49.52 10.65h2.0v2.0h-2.0zM49.92 10.93h2.0v2.0h-2.0zM50.32 11.02h2.0v2.0h-2.0zM50.72 12.80h2.0v2.0h-2.0zM51.12 12.54h2.0v2.0h-2.0zM51.52 13.35h2.0v2.0h-2.0zM51.92 16.74h2.0v2.0h-2.0zM52.33 17.99h2.0v2.0h-2.0zM52.73 15.21h2.0v2.0h-2.0zM53.13 15.31h2.0v2.0h-2.0zM53.53 17.52h2.0v2.0h-2.0zM53.93 10.71h2.0v2.0h-2.0zM54.33 11.55h2.0v2.0h-2.0zM54.73 11.59h2.0v2.0h-2.0zM55.13 11.75h2.0v2.0h-2.0zM55.53 11.34h2.0v2.0h-2.0zM55.94 13.29h2.0v2.0h-2.0zM56.34 12.49h2.0v2.0h-2.0zM56.74 13.33h2.0v2.0h-2.0zM57.14 15.38h2.0v2.0h-2.0zM57.54 14.60h2.0v2.0h-2.0zM57.94 18.23h2.0v2.0h-2.0zM58.34 16.80h2.0v2.0h-2.0zM58.74 18.07h2.0v2.0h-2.0zM59.14 22.77h2.0v2.0h-2.0zM59.54 21.18h2.0v2.0h-2.0zM59.95 24.11h2.0v2.0h-2.0zM60.35 25.21h2.0v2.0h-2.0zM60.75 25.42h2.0v2.0h-2.0zM61.15 23.72h2.0v2.0h-2.0zM61.55 27.55h2.0v2.0h-2.0zM61.95 29.22h2.0v2.0h-2.0zM62.35 31.37h2.0v2.0h-2.0zM62.75 30.65h2.0v2.0h-2.0zM63.15 32.74h2.0v2.0h-2.0zM63.55 33.57h2.0v2.0h-2.0zM63.95 31.49h2.0v2.0h-2.0zM64.36 34.96h2.0v2.0h-2.0zM64.76 32.34h2.0v2.0h-2.0zM65.16 29.00h2.0v2.0h-2.0zM65.56 24.82h2.0v2.0h-2.0zM65.96 20.93h2.0v2.0h-2.0zM66.36 14.64h2.0v2.0h-2.0zM66.76 10.49h2.0v2.0h-2.0zM67.16 11.24h2.0v2.0h-2.0zM67.56 9.81h2.0v2.0h-2.0zM67.97 10.64h2.0v2.0h-2.0zM68.37 11.77h2.0v2.0h-2.0zM68.77 10.07h2.0v2.0h-2.0zM69.17 10.81h2.0v2.0h-2.0zM69.57 10.16h2.0v2.0h-2.0zM69.97 10.73h2.0v2.0h-2.0zM70.37 12.05h2.0v2.0h-2.0zM70.77 10.54h2.0v2.0h-2.0zM71.17 10.87h2.0v2.0h-2.0zM71.57 12.20h2.0v2.0h-2.0zM71.98 13.36h2.0v2.0h-2.0zM72.38 14.99h2.0v2.0h-2.0zM72.78 15.15h2.0v2.0h-2.0zM73.18 14.84h2.0v2.0h-2.0zM73.58 12.81h2.0v2.0h-2.0zM73.98 11.80h2.0v2.0h-2.0zM74.38 13.64h2.0v2.0h-2.0zM74.78 14.32h2.0v2.0h-2.0zM75.18 14.69h2.0v2.0h-2.0zM75.58 10.68h2.0v2.0h-2.0zM75.99 15.94h2.0v2.0h-2.0zM76.39 14.38h2.0v2.0h-2.0zM76.79 10.86h2.0v2.0h-2.0zM77.19 15.51h2.0v2.0h-2.0zM77.59 11.62h2.0v2.0h-2.0zM77.99 15.15h2.0v2.0h-2.0zM78.39 16.12h2.0v2.0h-2.0zM78.79 14.58h2.0v2.0h-2.0zM79.19 13.13h2.0v2.0h-2.0zM79.59 14.60h2.0v2.0h-2.0zM80.00 14.98h2.0v2.0h-2.0zM80.40 14.36h2.0v2.0h-2.0zM80.80 12.90h2.0v2.0h-2.0zM81.20 12.93h2.0v2.0h-2.0zM81.60 15.04h2.0v2.0h-2.0zM82.00 16.29h2.0v2.0h-2.0zM82.40 18.96h2.0v2.0h-2.0zM82.80 18.32h2.0v2.0h-2.0zM83.20 19.22h2.0v2.0h-2.0zM83.60 19.45h2.0v2.0h-2.0zM84.00 21.67h2.0v2.0h-2.0zM84.41 24.08h2.0v2.0h-2.0zM84.81 24.34h2.0v2.0h-2.0zM85.21 28.48h2.0v2.0h-2.0zM85.61 27.64h2.0v2.0h-2.0zM86.01 28.15h2.0v2.0h-2.0zM86.41 35.15h2.0v2.0h-2.0zM86.81 31.25h2.0v2.0h-2.0zM87.21 33.18h2.0v2.0h-2.0zM87.61 35.32h2.0v2.0h-2.0zM88.02 35.76h2.0v2.0h-2.0zM88.42 33.57h2.0v2.0h-2.0zM88.82 31.73h2.0v2.0h-2.0zM89.22 31.74h2.0v2.0h-2.0zM89.62 31.33h2.0v2.0h-2.0zM90.02 26.72h2.0v2.0h-2.0zM90.42 22.77h2.0v2.0h-2.0zM90.82 20.55h2.0v2.0h-2.0zM91.22 19.11h2.0v2.0h-2.0zM91.62 14.96h2.0v2.0h-2.0zM92.03 14.20h2.0v2.0h-2.0zM92.43 13.78h2.0v2.0h-2.0zM92.83 14.30h2.0v2.0h-2.0zM93.23 16.07h2.0v2.0h-2.0zM93.63 13.82h2.0v2.0h-2.0zM94.03 12.39h2.0v2.0h-2.0zM94.43 17.83h2.0v2.0h-2.0zM94.83 13.24h2.0v2.0h-2.0zM95.23 13.65h2.0v2.0h-2.0zM95.63 11.41h2.0v2.0h-2.0zM96.04 11.27h2.0v2.0h-2.0zM96.44 11.63h2.0v2.0h-2.0zM96.84 14.03h2.0v2.0h-2.0zM97.24 13.36h2.0v2.0h-2.0zM97.64 13.93h2.0v2.0h-2.0zM98.04 10.86h2.0v2.0h-2.0zM98.44 11.24h2.0v2.0h-2.0zM98.84 12.73h2.0v2.0h-2.0zM99.24 11.66h2.0v2.0h-2.0zM99.64 15.36h2.0v2.0h-2.0zM100.05 12.42h2.0v2.0h-2.0zM100.45 9.68h2.0v2.0h-2.0zM100.85 12.17h2.0v2.0h-2.0zM101.25 14.82h2.0v2.0h-2.0zM101.65 17.17h2.0v2.0h-2.0zM102.05 11.55h2.0v2.0h-2.0zM102.45 12.86h2.0v2.0h-2.0zM102.85 14.69h2.0v2.0h-2.0zM103.25 13.14h2.0v2.0h-2.0zM103.65 12.62h2.0v2.0h-2.0zM104.06 14.21h2.0v2.0h-2.0zM104.46 17.88h2.0v2.0h-2.0zM104.86 15.14h2.0v2.0h-2.0zM105.26 17.12h2.0v2.0h-2.0zM105.66 19.29h2.0v2.0h-2.0zM106.06 19.30h2.0v2.0h-2.0zM106.46 19.72h2.0v2.0h-2.0zM106.86 20.75h2.0v2.0h-2.0zM107.26 21.98h2.0v2.0h-2.0zM107.66 25.49h2.0v2.0h-2.0zM108.06 23.66h2.0v2.0h-2.0zM108.47 25.70h2.0v2.0h-2.0zM108.87 29.25h2.0v2.0h-2.0zM109.27 27.10h2.0v2.0h-2.0zM109.67 29.16h2.0v2.0h-2.0zM110.07 30.97h2.0v2.0h-2.0zM110.47 33.44h2.0v2.0h-2.0zM110.87 31.65h2.0v2.0h-2.0zM111.27 31.68h2.0v2.0h-2.0zM111.67 30.26h2.0v2.0h-2.0zM112.08 27.39h2.0v2.0h-2.0zM112.48 28.96h2.0v2.0h-2.0zM112.88 26.33h2.0v2.0h-2.0zM113.28 23.12h2.0v2.0h-2.0zM113.68 23.93h2.0v2.0h-2.0zM114.08 20.41h2.0v2.0h-2.0zM114.48 19.36h2.0v2.0h-2.0zM114.88 19.38h2.0v2.0h-2.0zM115.28 17.57h2.0v2.0h-2.0zM115.68 17.97h2.0v2.0h-2.0zM116.09 14.32h2.0v2.0h-2.0zM116.49 15.14h2.0v2.0h-2.0zM116.89 13.23h2.0v2.0h-2.0zM117.29 14.06h2.0v2.0h-2.0zM117.69 11.88h2.0v2.0h-2.0zM118.09 11.35h2.0v2.0h-2.0zM118.49 12.70h2.0v2.0h-2.0zM118.89 12.04h2.0v2.0h-2.0zM119.29 14.57h2.0v2.0h-2.0zM119.69 9.44h2.0v2.0h-2.0zM120.09 13.79h2.0v2.0h-2.0zM120.50 10.07h2.0v2.0h-2.0zM120.90 14.82h2.0v2.0h-2.0zM121.30 15.10h2.0v2.0h-2.0zM121.70 16.73h2.0v2.0h-2.0zM122.10 11.25h2.0v2.0h-2.0zM122.50 12.40h2.0v2.0h-2.0zM122.90 15.06h2.0v2.0h-2.0zM123.30 12.26h2.0v2.0h-2.0zM123.70 14.16h2.0v2.0h-2.0zM124.11 12.90h2.0v2.0h-2.0zM124.51 13.58h2.0v2.0h-2.0zM124.91 13.43h2.0v2.0h-2.0zM125.31 13.81h2.0v2.0h-2.0zM125.71 13.61h2.0v2.0h-2.0zM126.11 15.49h2.0v2.0h-2.0zM126.51 15.69h2.0v2.0h-2.0zM126.91 17.08h2.0v2.0h-2.0zM127.31 18.64h2.0v2.0h-2.0zM127.71 20.79h2.0v2.0h-2.0zM128.12 21.20h2.0v2.0h-2.0zM128.52 21.09h2.0v2.0h-2.0zM128.92 24.27h2.0v2.0h-2.0zM129.32 21.98h2.0v2.0h-2.0zM129.72 21.30h2.0v2.0h-2.0zM130.12 24.48h2.0v2.0h-2.0zM130.52 25.51h2.0v2.0h-2.0zM130.92 28.18h2.0v2.0h-2.0zM131.32 30.39h2.0v2.0h-2.0zM131.72 28.92h2.0v2.0h-2.0zM132.12 33.00h2.0v2.0h-2.0zM132.53 33.13h2.0v2.0h-2.0zM132.93 32.51h2.0v2.0h-2.0zM133.33 33.14h2.0v2.0h-2.0zM133.73 36.57h2.0v2.0h-2.0zM134.13 33.15h2.0v2.0h-2.0zM134.53 31.77h2.0v2.0h-2.0zM134.93 32.76h2.0v2.0h-2.0zM135.33 28.85h2.0v2.0h-2.0zM135.73 31.01h2.0v2.0h-2.0zM136.14 27.96h2.0v2.0h-2.0zM136.54 28.29h2.0v2.0h-2.0zM136.94 25.23h2.0v2.0h-2.0zM137.34 22.20h2.0v2.0h-2.0zM137.74 23.81h2.0v2.0h-2.0zM138.14 20.24h2.0v2.0h-2.0zM138.54 21.81h2.0v2.0h-2.0zM138.94 18.50h2.0v2.0h-2.0zM139.34 20.37h2.0v2.0h-2.0zM139.74 17.22h2.0v2.0h-2.0zM140.15 17.36h2.0v2.0h-2.0zM140.55 16.34h2.0v2.0h-2.0zM140.95 15.17h2.0v2.0h-2.0zM141.35 17.05h2.0v2.0h-2.0zM141.75 15.84h2.0v2.0h-2.0zM142.15 16.47h2.0v2.0h-2.0zM142.55 14.42h2.0v2.0h-2.0zM142.95 12.93h2.0v2.0h-2.0zM143.35 14.77h2.0v2.0h-2.0zM143.75 13.91h2.0v2.0h-2.0zM144.16 14.15h2.0v2.0h-2.0zM144.56 16.75h2.0v2.0h-2.0zM144.96 15.57h2.0v2.0h-2.0zM145.36 15.16h2.0v2.0h-2.0zM145.76 14.81h2.0v2.0h-2.0zM146.16 14.60h2.0v2.0h-2.0zM146.56 13.37h2.0v2.0h-2.0zM146.96 13.47h2.0v2.0h-2.0zM147.36 14.83h2.0v2.0h-2.0zM147.76 16.67h2.0v2.0h-2.0zM148.17 14.52h2.0v2.0h-2.0zM148.57 13.28h2.0v2.0h-2.0zM148.97 17.85h2.0v2.0h-2.0zM149.37 17.49h2.0v2.0h-2.0zM149.77 16.34h2.0v2.0h-2.0zM150.17 18.36h2.0v2.0h-2.0zM150.57 17.27h2.0v2.0h-2.0zM150.97 15.28h2.0v2.0h-2.0zM151.37 18.71h2.0v2.0h-2.0zM151.77 19.62h2.0v2.0h-2.0zM152.18 18.15h2.0v2.0h-2.0zM152.58 20.14h2.0v2.0h-2.0zM152.98 20.95h2.0v2.0h-2.0zM153.38 22.85h2.0v2.0h-2.0zM153.78 24.44h2.0v2.0h-2.0zM154.18 25.39h2.0v2.0h-2.0zM154.58 26.50h2.0v2.0h-2.0zM154.98 28.62h2.0v2.0h-2.0zM155.38 29.88h2.0v2.0h-2.0zM155.78 30.81h2.0v2.0h-2.0zM156.19 34.93h2.0v2.0h-2.0zM156.59 35.12h2.0v2.0h-2.0zM156.99 35.68h2.0v2.0h-2.0zM157.39 36.51h2.0v2.0h-2.0zM157.79 33.25h2.0v2.0h-2.0zM158.19 33.36h2.0v2.0h-2.0zM158.59 29.43h2.0v2.0h-2.0zM158.99 29.66h2.0v2.0h-2.0zM159.39 27.20h2.0v2.0h-2.0zM159.79 25.27h2.0v2.0h-2.0zM160.20 23.85h2.0v2.0h-2.0zM160.60 27.28h2.0v2.0h-2.0zM161.00 22.68h2.0v2.0h-2.0zM161.40 22.82h2.0v2.0h-2.0zM161.80 21.43h2.0v2.0h-2.0zM162.20 19.46h2.0v2.0h-2.0zM162.60 19.70h2.0v2.0h-2.0zM163.00 18.23h2.0v2.0h-2.0zM163.40 19.02h2.0v2.0h-2.0zM163.80 20.81h2.0v2.0h-2.0zM164.21 19.56h2.0v2.0h-2.0zM164.61 18.10h2.0v2.0h-2.0zM165.01 16.11h2.0v2.0h-2.0zM165.41 15.31h2.0v2.0h-2.0zM165.81 17.89h2.0v2.0h-2.0zM166.21 18.83h2.0v2.0h-2.0zM166.61 17.48h2.0v2.0h-2.0zM167.01 16.72h2.0v2.0h-2.0zM167.41 16.22h2.0v2.0h-2.0zM167.81 14.08h2.0v2.0h-2.0zM168.22 15.27h2.0v2.0h-2.0zM168.62 19.64h2.0v2.0h-2.0zM169.02 15.86h2.0v2.0h-2.0zM169.42 16.92h2.0v2.0h-2.0zM169.82 14.73h2.0v2.0h-2.0zM170.22 13.80h2.0v2.0h-2.0zM170.62 15.72h2.0v2.0h-2.0zM171.02 15.95h2.0v2.0h-2.0zM171.42 17.09h2.0v2.0h-2.0zM171.82 16.48h2.0v2.0h-2.0zM172.23 22.24h2.0v2.0h-2.0zM172.63 18.11h2.0v2.0h-2.0zM173.03 20.31h2.0v2.0h-2.0zM173.43 16.68h2.0v2.0h-2.0zM173.83 18.31h2.0v2.0h-2.0zM174.23 19.31h2.0v2.0h-2.0zM174.63 19.56h2.0v2.0h-2.0zM175.03 21.45h2.0v2.0h-2.0zM175.43 22.43h2.0v2.0h-2.0zM175.83 23.22h2.0v2.0h-2.0zM176.24 21.54h2.0v2.0h-2.0zM176.64 20.95h2.0v2.0h-2.0zM177.04 29.43h2.0v2.0h-2.0zM177.44 29.82h2.0v2.0h-2.0zM177.84 29.46h2.0v2.0h-2.0zM178.24 28.49h2.0v2.0h-2.0zM178.64 31.18h2.0v2.0h-2.0zM179.04 35.09h2.0v2.0h-2.0zM179.44 30.46h2.0v2.0h-2.0zM179.84 35.73h2.0v2.0h-2.0zM180.25 36.90h2.0v2.0h-2.0zM180.65 34.60h2.0v2.0h-2.0zM181.05 35.92h2.0v2.0h-2.0zM181.45 31.90h2.0v2.0h-2.0zM181.85 33.51h2.0v2.0h-2.0zM182.25 27.39h2.0v2.0h-2.0zM182.65 26.29h2.0v2.0h-2.0zM183.05 26.42h2.0v2.0h-2.0zM183.45 26.34h2.0v2.0h-2.0zM183.85 24.92h2.0v2.0h-2.0zM184.26 23.38h2.0v2.0h-2.0zM184.66 21.15h2.0v2.0h-2.0zM185.06 20.66h2.0v2.0h-2.0zM185.46 23.07h2.0v2.0h-2.0zM185.86 22.22h2.0v2.0h-2.0zM186.26 21.27h2.0v2.0h-2.0zM186.66 19.36h2.0v2.0h-2.0zM187.06 16.54h2.0v2.0h-2.0zM187.46 15.25h2.0v2.0h-2.0zM187.86 16.92h2.0v2.0h-2.0zM188.27 15.84h2.0v2.0h-2.0zM188.67 15.26h2.0v2.0h-2.0zM189.07 15.29h2.0v2.0h-2.0zM189.47 14.14h2.0v2.0h-2.0zM189.87 14.31h2.0v2.0h-2.0zM190.27 14.63h2.0v2.0h-2.0zM190.67 15.17h2.0v2.0h-2.0zM191.07 14.84h2.0v2.0h-2.0zM191.47 16.45h2.0v2.0h-2.0zM191.87 15.99h2.0v2.0h-2.0zM192.28 17.69h2.0v2.0h-2.0zM192.68 17.01h2.0v2.0h-2.0zM193.08 18.82h2.0v2.0h-2.0zM193.48 18.87h2.0v2.0h-2.0zM193.88 18.24h2.0v2.0h-2.0zM194.28 20.28h2.0v2.0h-2.0zM194.68 20.77h2.0v2.0h-2.0zM195.08 22.18h2.0v2.0h-2.0zM195.48 21.66h2.0v2.0h-2.0zM195.88 22.99h2.0v2.0h-2.0zM196.29 23.95h2.0v2.0h-2.0zM196.69 24.92h2.0v2.0h-2.0zM197.09 25.81h2.0v2.0h-2.0zM197.49 25.79h2.0v2.0h-2.0zM197.89 30.94h2.0v2.0h-2.0zM198.29 27.16h2.0v2.0h-2.0zM198.69 31.02h2.0v2.0h-2.0zM199.09 33.98h2.0v2.0h-2.0zM199.49 33.02h2.0v2.0h-2.0zM199.89 34.37h2.0v2.0h-2.0zM200.30 35.49h2.0v2.0h-2.0zM200.70 37.13h2.0v2.0h-2.0zM201.10 36.55h2.0v2.0h-2.0zM201.50 42.24h2.0v2.0h-2.0zM201.90 35.07h2.0v2.0h-2.0zM202.30 36.47h2.0v2.0h-2.0zM202.70 35.12h2.0v2.0h-2.0zM203.10 34.71h2.0v2.0h-2.0zM203.50 35.25h2.0v2.0h-2.0zM203.90 34.56h2.0v2.0h-2.0zM204.31 30.11h2.0v2.0h-2.0zM204.71 27.48h2.0v2.0h-2.0zM205.11 27.47h2.0v2.0h-2.0zM205.51 25.68h2.0v2.0h-2.0zM205.91 25.81h2.0v2.0h-2.0zM206.31 24.12h2.0v2.0h-2.0zM206.71 22.99h2.0v2.0h-2.0zM207.11 20.98h2.0v2.0h-2.0zM207.51 20.88h2.0v2.0h-2.0zM207.91 18.92h2.0v2.0h-2.0zM208.32 16.60h2.0v2.0h-2.0zM208.72 17.85h2.0v2.0h-2.0zM209.12 16.96h2.0v2.0h-2.0zM209.52 17.24h2.0v2.0h-2.0zM209.92 15.33h2.0v2.0h-2.0zM210.32 19.30h2.0v2.0h-2.0zM210.72 15.95h2.0v2.0h-2.0zM211.12 18.92h2.0v2.0h-2.0zM211.52 16.10h2.0v2.0h-2.0zM211.92 17.36h2.0v2.0h-2.0zM212.33 18.73h2.0v2.0h-2.0zM212.73 18.98h2.0v2.0h-2.0zM213.13 18.79h2.0v2.0h-2.0zM213.53 20.88h2.0v2.0h-2.0zM213.93 22.19h2.0v2.0h-2.0zM214.33 23.28h2.0v2.0h-2.0zM214.73 21.74h2.0v2.0h-2.0zM215.13 23.58h2.0v2.0h-2.0zM215.53 23.08h2.0v2.0h-2.0zM215.93 24.95h2.0v2.0h-2.0zM216.34 23.43h2.0v2.0h-2.0zM216.74 26.81h2.0v2.0h-2.0zM217.14 28.88h2.0v2.0h-2.0zM217.54 27.94h2.0v2.0h-2.0zM217.94 27.37h2.0v2.0h-2.0zM218.34 28.70h2.0v2.0h-2.0zM218.74 32.36h2.0v2.0h-2.0zM219.14 33.38h2.0v2.0h-2.0zM219.54 35.89h2.0v2.0h-2.0zM219.94 36.04h2.0v2.0h-2.0zM220.35 34.00h2.0v2.0h-2.0zM220.75 40.54h2.0v2.0h-2.0zM221.15 40.48h2.0v2.0h-2.0zM221.55 42.58h2.0v2.0h-2.0zM221.95 43.24h2.0v2.0h-2.0zM222.35 42.12h2.0v2.0h-2.0zM222.75 45.06h2.0v2.0h-2.0zM223.15 46.38h2.0v2.0h-2.0zM223.55 45.68h2.0v2.0h-2.0zM223.95 41.72h2.0v2.0h-2.0zM224.36 32.79h2.0v2.0h-2.0zM224.76 35.56h2.0v2.0h-2.0zM225.16 34.54h2.0v2.0h-2.0zM225.56 34.86h2.0v2.0h-2.0zM225.96 32.70h2.0v2.0h-2.0zM226.36 32.85h2.0v2.0h-2.0zM226.76 29.45h2.0v2.0h-2.0zM227.16 28.87h2.0v2.0h-2.0zM227.56 25.81h2.0v2.0h-2.0zM227.96 19.67h2.0v2.0h-2.0zM228.37 23.53h2.0v2.0h-2.0zM228.77 24.14h2.0v2.0h-2.0zM229.17 19.45h2.0v2.0h-2.0zM229.57 21.73h2.0v2.0h-2.0zM229.97 19.80h2.0v2.0h-2.0zM230.37 17.08h2.0v2.0h-2.0zM230.77 17.02h2.0v2.0h-2.0zM231.17 17.92h2.0v2.0h-2.0zM231.57 18.81h2.0v2.0h-2.0zM231.97 18.34h2.0v2.0h-2.0zM232.38 20.19h2.0v2.0h-2.0zM232.78 15.13h2.0v2.0h-2.0zM233.18 20.09h2.0v2.0h-2.0zM233.58 18.08h2.0v2.0h-2.0zM233.98 20.30h2.0v2.0h-2.0zM234.38 24.00h2.0v2.0h-2.0zM234.78 23.47h2.0v2.0h-2.0zM235.18 23.44h2.0v2.0h-2.0zM235.58 23.90h2.0v2.0h-2.0zM235.98 29.59h2.0v2.0h-2.0zM236.39 21.67h2.0v2.0h-2.0zM236.79 27.96h2.0v2.0h-2.0zM237.19 21.78h2.0v2.0h-2.0zM237.59 25.67h2.0v2.0h-2.0zM237.99 27.69h2.0v2.0h-2.0zM238.39 25.84h2.0v2.0h-2.0zM238.79 29.35h2.0v2.0h-2.0zM239.19 32.01h2.0v2.0h-2.0zM239.59 27.73h2.0v2.0h-2.0zM239.99 32.51h2.0v2.0h-2.0zM240.40 31.94h2.0v2.0h-2.0zM240.80 28.87h2.0v2.0h-2.0zM241.20 35.46h2.0v2.0h-2.0zM241.60 34.75h2.0v2.0h-2.0zM242.00 41.44h2.0v2.0h-2.0zM242.40 35.93h2.0v2.0h-2.0zM242.80 43.91h2.0v2.0h-2.0zM243.20 38.81h2.0v2.0h-2.0zM243.60 46.52h2.0v2.0h-2.0zM244.00 42.94h2.0v2.0h-2.0zM244.41 40.63h2.0v2.0h-2.0zM244.81 39.90h2.0v2.0h-2.0zM245.21 38.87h2.0v2.0h-2.0zM245.61 38.57h2.0v2.0h-2.0zM246.01 37.81h2.0v2.0h-2.0zM246.41 29.98h2.0v2.0h-2.0zM246.81 26.80h2.0v2.0h-2.0zM247.21 20.99h2.0v2.0h-2.0zM247.61 25.43h2.0v2.0h-2.0zM248.01 27.26h2.0v2.0h-2.0zM248.42 24.43h2.0v2.0h-2.0zM248.82 23.31h2.0v2.0h-2.0zM249.22 22.34h2.0v2.0h-2.0zM249.62 21.58h2.0v2.0h-2.0zM250.02 21.76h2.0v2.0h-2.0zM250.42 22.78h2.0v2.0h-2.0zM250.82 18.17h2.0v2.0h-2.0zM251.22 23.80h2.0v2.0h-2.0zM251.62 18.93h2.0v2.0h-2.0zM252.02 22.15h2.0v2.0h-2.0zM252.43 20.84h2.0v2.0h-2.0zM252.83 22.22h2.0v2.0h-2.0zM253.23 19.94h2.0v2.0h-2.0zM253.63 19.50h2.0v2.0h-2.0zM254.03 22.35h2.0v2.0h-2.0zM254.43 20.42h2.0v2.0h-2.0zM254.83 28.80h2.0v2.0h-2.0zM255.23 21.88h2.0v2.0h-2.0zM255.63 22.58h2.0v2.0h-2.0zM256.03 24.18h2.0v2.0h-2.0zM256.44 23.69h2.0v2.0h-2.0zM256.84 20.91h2.0v2.0h-2.0zM257.24 27.31h2.0v2.0h-2.0zM257.64 29.54h2.0v2.0h-2.0zM258.04 25.67h2.0v2.0h-2.0zM258.44 31.03h2.0v2.0h-2.0zM258.84 28.76h2.0v2.0h-2.0zM259.24 32.16h2.0v2.0h-2.0zM259.64 33.75h2.0v2.0h-2.0zM260.04 35.98h2.0v2.0h-2.0zM260.45 36.14h2.0v2.0h-2.0zM260.85 34.28h2.0v2.0h-2.0zM261.25 39.86h2.0v2.0h-2.0zM261.65 37.00h2.0v2.0h-2.0zM262.05 39.42h2.0v2.0h-2.0zM262.45 41.58h2.0v2.0h-2.0zM262.85 40.32h2.0v2.0h-2.0zM263.25 36.66h2.0v2.0h-2.0zM263.65 41.35h2.0v2.0h-2.0zM264.05 36.26h2.0v2.0h-2.0zM264.46 35.27h2.0v2.0h-2.0zM264.86 34.02h2.0v2.0h-2.0zM265.26 37.77h2.0v2.0h-2.0zM265.66 33.78h2.0v2.0h-2.0zM266.06 26.25h2.0v2.0h-2.0zM266.46 32.70h2.0v2.0h-2.0zM266.86 35.07h2.0v2.0h-2.0zM267.26 33.54h2.0v2.0h-2.0zM267.66 24.93h2.0v2.0h-2.0zM268.06 24.73h2.0v2.0h-2.0zM268.47 26.60h2.0v2.0h-2.0zM268.87 28.05h2.0v2.0h-2.0zM269.27 25.73h2.0v2.0h-2.0zM269.67 22.56h2.0v2.0h-2.0zM270.07 26.95h2.0v2.0h-2.0zM270.47 27.37h2.0v2.0h-2.0zM270.87 21.59h2.0v2.0h-2.0zM271.27 25.47h2.0v2.0h-2.0zM271.67 25.95h2.0v2.0h-2.0zM272.07 26.25h2.0v2.0h-2.0zM272.48 26.92h2.0v2.0h-2.0zM272.88 28.42h2.0v2.0h-2.0zM273.28 27.18h2.0v2.0h-2.0zM273.68 26.22h2.0v2.0h-2.0zM274.08 22.91h2.0v2.0h-2.0zM274.48 28.75h2.0v2.0h-2.0zM274.88 31.22h2.0v2.0h-2.0zM275.28 32.37h2.0v2.0h-2.0zM275.68 28.32h2.0v2.0h-2.0zM276.08 27.47h2.0v2.0h-2.0zM276.49 32.37h2.0v2.0h-2.0zM276.89 31.92h2.0v2.0h-2.0zM277.29 29.27h2.0v2.0h-2.0zM277.69 31.18h2.0v2.0h-2.0zM278.09 26.02h2.0v2.0h-2.0zM278.49 31.12h2.0v2.0h-2.0zM278.89 26.43h2.0v2.0h-2.0zM279.29 30.39h2.0v2.0h-2.0zM279.69 32.44h2.0v2.0h-2.0zM280.09 30.86h2.0v2.0h-2.0zM280.50 29.00h2.0v2.0h-2.0zM280.90 32.53h2.0v2.0h-2.0zM281.30 37.38h2.0v2.0h-2.0zM281.70 36.93h2.0v2.0h-2.0zM282.10 37.45h2.0v2.0h-2.0zM282.50 41.50h2.0v2.0h-2.0zM282.90 44.50h2.0v2.0h-2.0zM283.30 43.75h2.0v2.0h-2.0zM283.70 36.60h2.0v2.0h-2.0zM284.10 37.29h2.0v2.0h-2.0zM284.51 35.55h2.0v2.0h-2.0zM284.91 32.54h2.0v2.0h-2.0zM285.31 29.47h2.0v2.0h-2.0zM285.71 31.50h2.0v2.0h-2.0zM286.11 29.24h2.0v2.0h-2.0zM286.51 35.66h2.0v2.0h-2.0zM286.91 28.67h2.0v2.0h-2.0zM287.31 28.73h2.0v2.0h-2.0zM287.71 26.45h2.0v2.0h-2.0zM288.11 32.31h2.0v2.0h-2.0zM288.52 25.43h2.0v2.0h-2.0zM288.92 27.34h2.0v2.0h-2.0zM289.32 25.25h2.0v2.0h-2.0zM289.72 27.40h2.0v2.0h-2.0zM290.12 27.72h2.0v2.0h-2.0zM290.52 30.43h2.0v2.0h-2.0zM290.92 23.22h2.0v2.0h-2.0zM291.32 26.96h2.0v2.0h-2.0zM291.72 32.99h2.0v2.0h-2.0zM292.12 26.94h2.0v2.0h-2.0zM292.53 29.47h2.0v2.0h-2.0zM292.93 28.41h2.0v2.0h-2.0zM293.33 23.60h2.0v2.0h-2.0zM293.73 30.70h2.0v2.0h-2.0zM294.13 35.17h2.0v2.0h-2.0zM294.53 32.06h2.0v2.0h-2.0zM294.93 29.00h2.0v2.0h-2.0zM295.33 34.83h2.0v2.0h-2.0zM295.73 35.23h2.0v2.0h-2.0zM296.13 39.04h2.0v2.0h-2.0zM296.54 39.54h2.0v2.0h-2.0zM296.94 36.80h2.0v2.0h-2.0zM297.34 39.44h2.0v2.0h-2.0zM297.74 33.65h2.0v2.0h-2.0zM298.14 43.60h2.0v2.0h-2.0zM298.54 41.72h2.0v2.0h-2.0zM298.94 46.27h2.0v2.0h-2.0zM299.34 46.98h2.0v2.0h-2.0zM299.74 44.27h2.0v2.0h-2.0zM300.14 47.58h2.0v2.0h-2.0zM300.55 45.01h2.0v2.0h-2.0zM300.95 42.22h2.0v2.0h-2.0zM301.35 50.77h2.0v2.0h-2.0zM301.75 53.50h2.0v2.0h-2.0zM302.15 49.19h2.0v2.0h-2.0zM302.55 52.71h2.0v2.0h-2.0zM302.95 47.85h2.0v2.0h-2.0zM303.35 48.99h2.0v2.0h-2.0zM303.75 41.44h2.0v2.0h-2.0zM304.15 37.16h2.0v2.0h-2.0zM304.56 42.50h2.0v2.0h-2.0zM304.96 42.08h2.0v2.0h-2.0zM305.36 37.99h2.0v2.0h-2.0zM305.76 34.21h2.0v2.0h-2.0zM306.16 32.19h2.0v2.0h-2.0zM306.56 31.99h2.0v2.0h-2.0zM306.96 30.41h2.0v2.0h-2.0zM307.36 26.03h2.0v2.0h-2.0zM307.76 33.51h2.0v2.0h-2.0zM308.16 26.80h2.0v2.0h-2.0zM308.56 29.26h2.0v2.0h-2.0zM308.97 29.28h2.0v2.0h-2.0zM309.37 30.36h2.0v2.0h-2.0zM309.77 24.82h2.0v2.0h-2.0zM310.17 32.29h2.0v2.0h-2.0zM310.57 30.36h2.0v2.0h-2.0zM310.97 29.74h2.0v2.0h-2.0zM311.37 31.27h2.0v2.0h-2.0zM311.77 35.50h2.0v2.0h-2.0zM312.17 42.00h2.0v2.0h-2.0z" fill="#a6869f"/>
<g stroke="#333" stroke-width="1">
<line x1="42.9" y1="4.0" x2="42.9" y2="219.4"/>
<line x1="42.4" y1="219.4" x2="324.1" y2="219.4"/>
<line x1="83.00" y1="219.4" x2="83.00" y2="216"/><line x1="123.10" y1="219.4" x2="123.10" y2="216"/><line x1="163.20" y1="219.4" x2="163.20" y2="216"/><line x1="203.30" y1="219.4" x2="203.30" y2="216"/><line x1="243.40" y1="219.4" x2="243.40" y2="216"/><line x1="283.50" y1="219.4" x2="283.50" y2="216"/><line x1="323.60" y1="219.4" x2="323.60" y2="216"/><line x1="42.9" y1="176.18" x2="45.9" y2="176.18"/><line x1="42.9" y1="133.26" x2="45.9" y2="133.26"/><line x1="42.9" y1="90.34" x2="45.9" y2="90.34"/><line x1="42.9" y1="47.42" x2="45.9" y2="47.42"/><line x1="42.9" y1="4.50" x2="45.9" y2="4.50"/>
</g>
<g font-size="12" text-anchor="middle"><text transform="translate(43.00,236.1) scale(1.06,1.12)">0</text><text transform="translate(83.10,236.1) scale(1.06,1.12)">100</text><text transform="translate(123.20,236.1) scale(1.06,1.12)">200</text><text transform="translate(163.30,236.1) scale(1.06,1.12)">300</text><text transform="translate(203.40,236.1) scale(1.06,1.12)">400</text><text transform="translate(243.50,236.1) scale(1.06,1.12)">500</text><text transform="translate(283.60,236.1) scale(1.06,1.12)">600</text><text transform="translate(323.70,236.1) scale(1.06,1.12)">700</text></g>
<g font-size="12" text-anchor="end"><text transform="translate(38.3,223.96) scale(1.09,1.13)">0</text><text transform="translate(38.3,181.04) scale(1.09,1.13)">0.2</text><text transform="translate(38.3,138.12) scale(1.09,1.13)">0.4</text><text transform="translate(38.3,95.20) scale(1.09,1.13)">0.6</text><text transform="translate(38.3,52.28) scale(1.09,1.13)">0.8</text><text transform="translate(38.3,9.36) scale(1.09,1.13)">1</text></g>
<text transform="translate(183.3,253.1) scale(1.0,1.1)" font-size="14" text-anchor="middle">fiber number</text>
<text transform="translate(9.4,111.65) rotate(-90)" font-size="14.35" text-anchor="middle">fiber relative energy</text>
<rect x="225.5" y="155.5" width="80" height="30" fill="#fff" stroke="#444" stroke-width="1"/>
<line x1="228" y1="163.9" x2="254" y2="163.9" stroke="#f0a86e" stroke-width="0.6" opacity="0.6"/>
<rect x="239.8" y="163" width="1.8" height="1.8" fill="#f0a86e"/>
<line x1="228" y1="177.7" x2="254" y2="177.7" stroke="#a6869f" stroke-width="0.6" opacity="0.6"/>
<rect x="239.8" y="176.8" width="1.8" height="1.8" fill="#a6869f"/>
<text transform="translate(256.0,168.1) scale(1.02,1.08)" font-size="11.3">best state</text>
<text transform="translate(256.0,181.8) scale(1.02,1.08)" font-size="11.3">deviation</text>
</svg>
</body></html>
